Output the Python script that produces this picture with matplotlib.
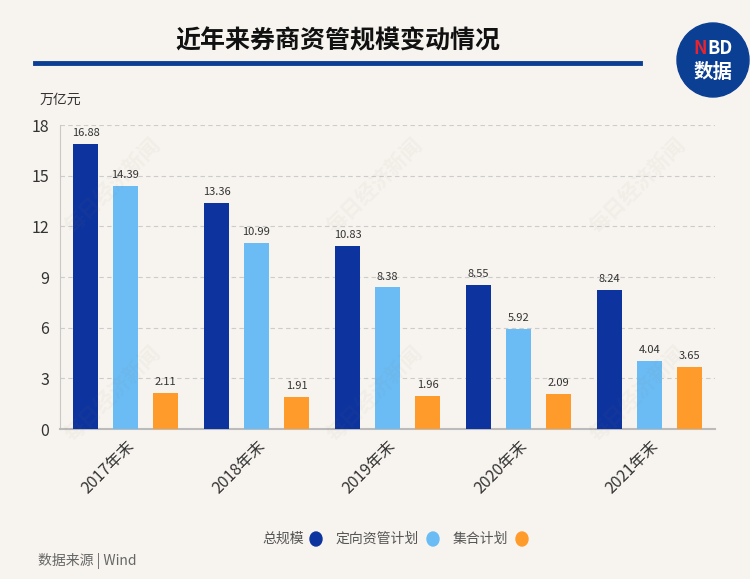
import matplotlib.pyplot as plt
import numpy as np
from matplotlib.patches import Ellipse

plt.rcParams['font.family'] = ['Noto Sans CJK SC', 'DejaVu Sans']

years = ['2017年末', '2018年末', '2019年末', '2020年末', '2021年末']
total = [16.88, 13.36, 10.83, 8.55, 8.24]
directed = [14.39, 10.99, 8.38, 5.92, 4.04]
collective = [2.11, 1.91, 1.96, 2.09, 3.65]
series_names = ['总规模', '定向资管计划', '集合计划']
colors = ['#0d339e', '#6bbcf4', '#ff9b2b']

bg = '#f7f4ef'
W, H = 750, 579
fig = plt.figure(figsize=(W / 100, H / 100), dpi=100, facecolor=bg)
ax = fig.add_axes([60 / W, 1 - 429 / H, 655 / W, (429 - 125) / H], facecolor=bg)

x = np.arange(len(years))
off = 0.305
w = 0.19
for i, (vals, c) in enumerate(zip([total, directed, collective], colors)):
    pos = x + (i - 1) * off
    ax.bar(pos, vals, width=w, color=c, zorder=3)
    for p, v in zip(pos, vals):
        ax.text(p, v + 0.35, f'{v:.2f}', ha='center', va='bottom', fontsize=8, color='#333333', zorder=4)

ax.set_xlim(-0.5, 4.5)
ax.set_ylim(0, 18)
ax.set_yticks([0, 3, 6, 9, 12, 15, 18])
ax.tick_params(axis='y', length=0, labelsize=11.5, colors='#333333', pad=8)
ax.tick_params(axis='x', length=0, pad=6)
ax.set_xticks(x)
ax.set_xticklabels(years, rotation=45, ha='right', rotation_mode='anchor', fontsize=11.5, color='#333333')
ax.yaxis.grid(True, linestyle=(0, (4, 3)), color='#cccccc', linewidth=0.8, zorder=0)
for s in ['top', 'right']:
    ax.spines[s].set_visible(False)
ax.spines['left'].set_color('#c8c8c8')
ax.spines['bottom'].set_color('#bbbbbb')
ax.spines['bottom'].set_linewidth(1.5)

# faint watermarks
for wx, wy in [(0.15, 0.68), (0.5, 0.68), (0.85, 0.68), (0.15, 0.32), (0.5, 0.32), (0.85, 0.32)]:
    fig.text(wx, wy, '每日经济新闻', rotation=45, fontsize=15, color='#8a7a6a', alpha=0.06,
             ha='center', va='center', fontweight='bold')

# title and rule
fig.text(338 / W, 1 - 41 / H, '近年来券商资管规模变动情况', ha='center', va='center',
         fontsize=18, fontweight='bold', color='#111111')
fig.add_artist(plt.Line2D([35 / W, 640 / W], [1 - 63 / H, 1 - 63 / H], color='#0b3f94', linewidth=3.5))

# logo
fig.add_artist(Ellipse((713 / W, 1 - 60 / H), 72 / W, 74 / H, color='#0b3f94'))
fig.text(707 / W, 1 - 48 / H, 'N', ha='right', va='center', fontsize=13, fontweight='bold', color='#e8242e')
fig.text(707 / W, 1 - 48 / H, 'BD', ha='left', va='center', fontsize=13, fontweight='bold', color='white')
fig.text(713 / W, 1 - 72 / H, '数据', ha='center', va='center', fontsize=14, fontweight='bold', color='white')

fig.text(40 / W, 1 - 100 / H, '万亿元', ha='left', va='center', fontsize=10, color='#333333')

# legend
ly = 1 - 539 / H
items = [(283, 316), (377, 433), (480, 522)]
for (tx, mx), name, c in zip(items, series_names, colors):
    fig.text(tx / W, ly, name, ha='center', va='center', fontsize=10, color='#555555')
    fig.add_artist(Ellipse((mx / W, ly), 12 / W, 14 / H, color=c))

fig.text(38 / W, 1 - 561 / H, '数据来源 | Wind', ha='left', va='center', fontsize=10, color='#666666')

fig.savefig('out.png', dpi=100, facecolor=bg)
